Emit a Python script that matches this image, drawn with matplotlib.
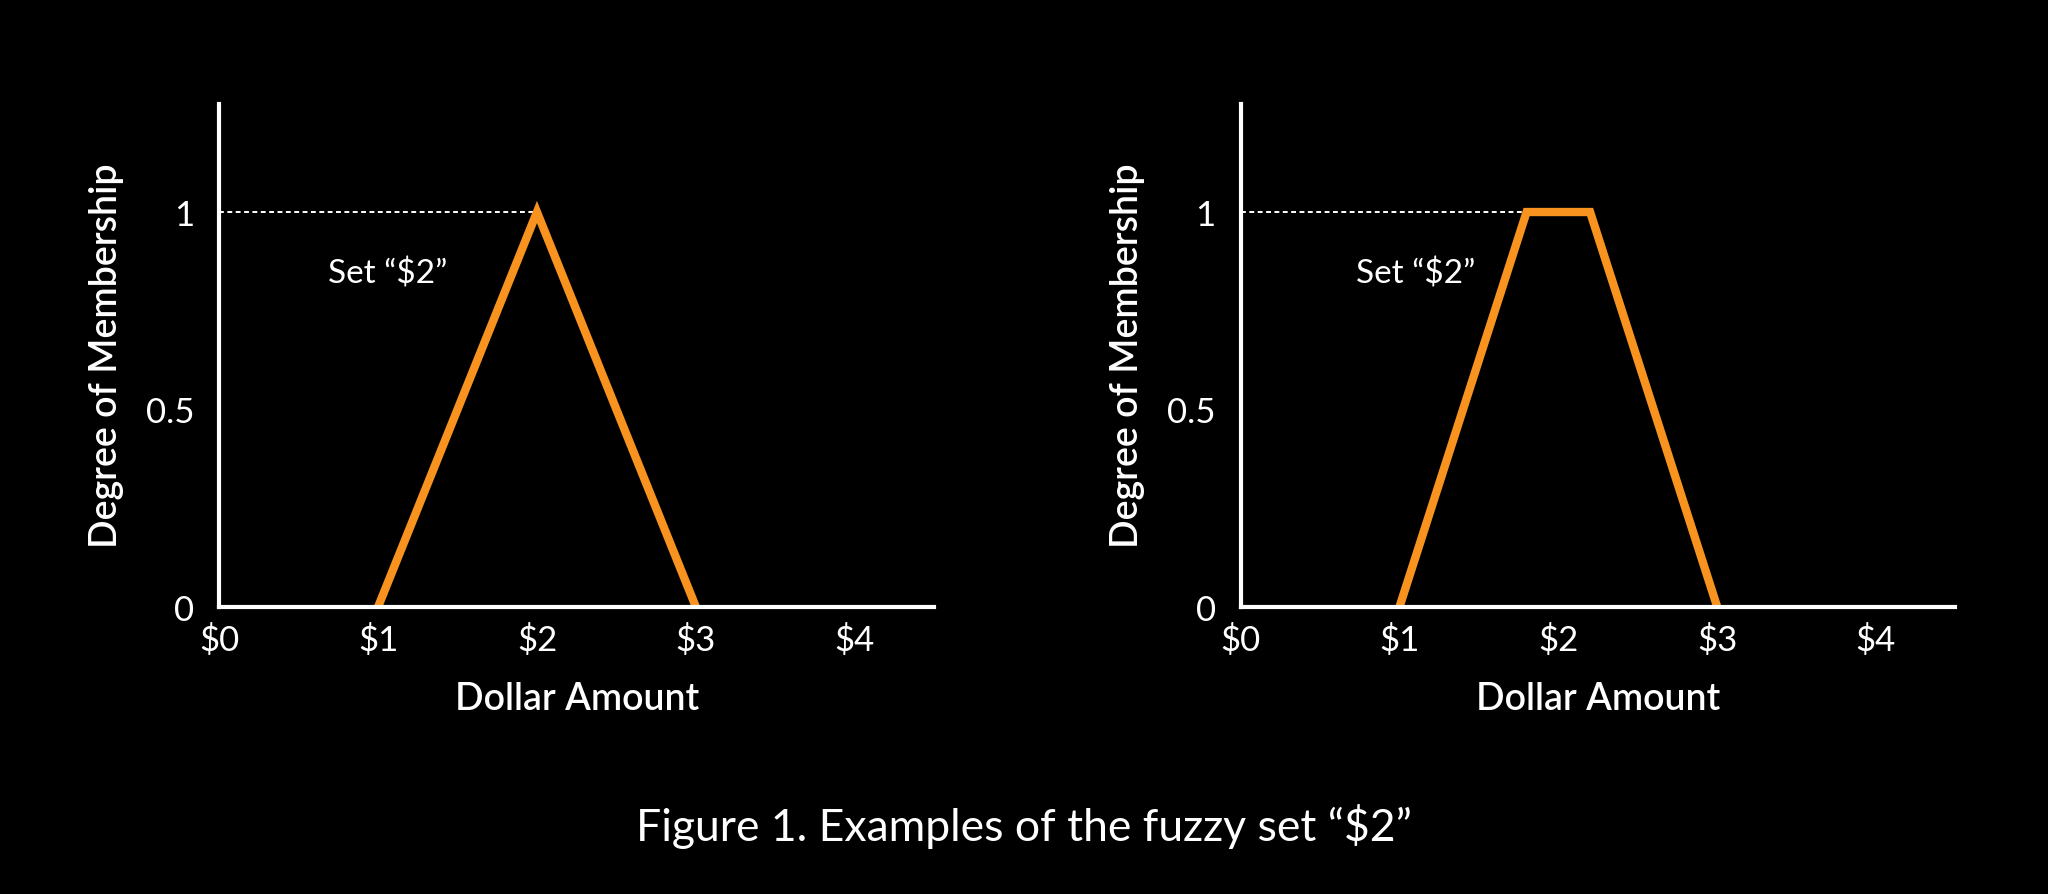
import matplotlib
matplotlib.use("Agg")
import matplotlib.pyplot as plt

tri_x = [1.0, 2.0, 3.0]
tri_y = [0, 1, 0]
trap_x = [1.0, 1.8, 2.2, 3.0]
trap_y = [0, 1, 1, 0]
xticks = [0, 1, 2, 3, 4]
xlabels = ["$0", "$1", "$2", "$3", "$4"]
yticks = [0, 0.5, 1]
ylabels = ["0", "0.5", "1"]

plt.rcParams['font.family'] = ['Lato', 'DejaVu Sans']
fig = plt.figure(figsize=(20.48, 8.95), dpi=100, facecolor='black')
W, H = 1568, 685
orange = '#F7931E'
panels = [(168, tri_x, tri_y, 2.0, 1.06), (950, trap_x, trap_y, 2.2, 1.1)]
for left, xs, ys, peak, tx in panels:
    ax = fig.add_axes([left/W, 1-465/H, 547/W, 385/H])
    ax.set_facecolor('black')
    ax.set_xlim(0, 4.5)
    ax.set_ylim(0, 1.275)
    for s in ['top', 'right']:
        ax.spines[s].set_visible(False)
    for s in ['left', 'bottom']:
        ax.spines[s].set_color('white')
        ax.spines[s].set_linewidth(3)
    ax.plot([0, peak], [1, 1], color='white', ls=(0, (2.5, 1.8)), lw=1.4)
    ax.plot(xs, ys, color=orange, lw=6, solid_joinstyle='miter', solid_capstyle='butt', clip_on=False)
    ax.set_xticks(xticks, xlabels)
    ax.set_yticks(yticks, ylabels)
    ax.tick_params(colors='white', labelsize=25, length=0)
    ax.tick_params(axis='x', pad=12)
    ax.tick_params(axis='y', pad=18)
    ax.set_xlabel("Dollar Amount", color='white', fontsize=27, labelpad=18, fontweight='semibold')
    ax.set_ylabel("Degree of Membership", color='white', fontsize=27, labelpad=16, fontweight='semibold')
    ax.text(tx, 0.845, "Set “$2”", color='white', fontsize=24, ha='center', va='center')

fig.text(0.5, 0.076, "Figure 1. Examples of the fuzzy set “$2”", color='white',
         fontsize=32, ha='center', va='center')
fig.savefig("out.png", facecolor='black')
